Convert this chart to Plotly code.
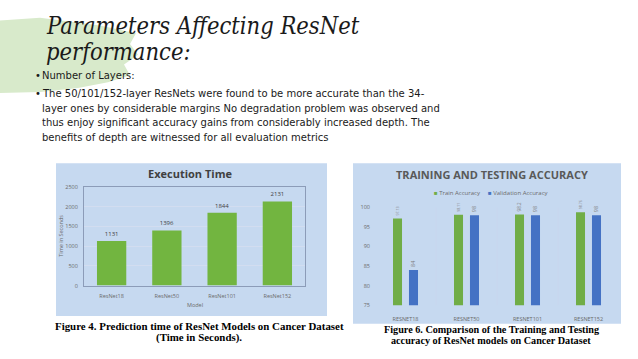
import plotly.graph_objects as go

# ---- data ----
exec_models = ["ResNet18", "ResNet50", "ResNet101", "ResNet152"]
exec_times = [1131, 1396, 1844, 2131]

acc_models = ["RESNET18", "RESNET50", "RESNET101", "RESNET152"]
train_acc = [97.13, 98.11, 98.2, 98.76]
val_acc = [84, 98, 98, 98]

W, H = 638, 359
def px(x):
    return x / W
def py(y):
    return 1 - y / H

fig = go.Figure()

# left chart: execution time
fig.add_trace(go.Bar(
    x=exec_models, y=exec_times, xaxis="x", yaxis="y",
    marker=dict(color="#72b540", line=dict(width=0)), width=0.53,
    text=[str(v) for v in exec_times], textposition="outside",
    textfont=dict(size=6, color="#404040", family="Open Sans"),
    cliponaxis=False, showlegend=False))

# right chart: accuracy
fig.add_trace(go.Bar(
    x=acc_models, y=train_acc, xaxis="x2", yaxis="y2", name="Train Accuracy",
    marker=dict(color="#70ad47", line=dict(width=0)), width=0.148, offset=-0.205,
    text=[str(v) for v in train_acc], textposition="outside", textangle=-90,
    textfont=dict(size=5.5, color="#7f7f7f", family="Open Sans"),
    cliponaxis=False, showlegend=False))
fig.add_trace(go.Bar(
    x=acc_models, y=val_acc, xaxis="x2", yaxis="y2", name="Validation Accuracy",
    marker=dict(color="#4472c4", line=dict(width=0)), width=0.148, offset=0.057,
    text=[str(v) for v in val_acc], textposition="outside", textangle=-90,
    textfont=dict(size=5.5, color="#7f7f7f", family="Open Sans"),
    cliponaxis=False, showlegend=False))

tickf = dict(size=5.5, color="#6b6b6b", family="Open Sans")

shapes = [
    # green brush stroke
    dict(type="path", xref="paper", yref="paper", layer="below",
         path="M {} {} L {} {} L {} {} L {} {} L {} {} L {} {} L {} {} L {} {} L {} {} L {} {} L {} {} L {} {} Z".format(
             px(0), py(17), px(40), py(14), px(100), py(22), px(136), py(30),
             px(130), py(41), px(138), py(52), px(124), py(62), px(130), py(73),
             px(108), py(80), px(78), py(86), px(40), py(90), px(0), py(91)),
         fillcolor="#d8eacb", line=dict(width=0)),
    # chart backgrounds
    dict(type="rect", xref="paper", yref="paper", layer="below",
         x0=px(56), x1=px(327), y0=py(319), y1=py(163),
         fillcolor="#c6d9f0", line=dict(width=0)),
    dict(type="rect", xref="paper", yref="paper", layer="below",
         x0=px(353), x1=px(621), y0=py(327), y1=py(163),
         fillcolor="#c6d9f0", line=dict(width=0)),
]
# band separators on accuracy chart
for b in [0.5, 1.5, 2.5]:
    shapes.append(dict(type="line", xref="x2", yref="y2 domain", x0=b, x1=b, y0=0, y1=1,
                       line=dict(color="#c8d6ee", width=1), layer="below"))

ann = []
def text(x, y, s, size, family, color="#000000", xanchor="left", bold=False, italic=False, angle=0):
    if bold:
        s = "<b>" + s + "</b>"
    if italic:
        s = "<i>" + s + "</i>"
    ann.append(dict(x=px(x), y=py(y), xref="paper", yref="paper", text=s, showarrow=False,
                    xanchor=xanchor, yanchor="middle", textangle=angle,
                    font=dict(size=size, family=family, color=color)))

# slide title
tf = "DejaVu Serif Condensed, DejaVu Serif"
text(44, 22, "Parameters Affecting ResNet", 23.5, tf, "#1a1a1a", italic=True)
text(44, 49, "performance:", 23.5, tf, "#1a1a1a", italic=True)
# bullets
bf = "DejaVu Sans"
bs = 10
text(33, 73, "•", bs, bf, "#1a1a1a")
text(40, 73, "Number of Layers:", bs, bf, "#1a1a1a")
text(33, 92, "•", bs, bf, "#1a1a1a")
lines = ["The 50/101/152-layer ResNets were found to be more accurate than the 34-",
         "layer ones by considerable margins No degradation problem was observed and",
         "thus enjoy significant accuracy gains from considerably increased depth. The",
         "benefits of depth are witnessed for all evaluation metrics"]
for i, l in enumerate(lines):
    text(40, 92 + i * 14.7, l, bs, bf, "#1a1a1a")

# chart titles
text(190, 173, "Execution Time", 11, "Open Sans", "#404040", xanchor="center", bold=True)
text(492, 174, "TRAINING AND TESTING ACCURACY", 11, "Open Sans", "#595959", xanchor="center", bold=True)
# axis titles left chart
text(61, 237, "Time in Seconds", 5.5, "Open Sans", "#6b6b6b", xanchor="center", angle=-90)
text(195, 308, "Model", 5.5, "Open Sans", "#6b6b6b", xanchor="center")
# legend right chart
text(432, 193, "<span style='color:#70ad47'>■</span> Train Accuracy", 6, "Open Sans", "#6b6b6b")
text(486, 193, "<span style='color:#4472c4'>■</span> Validation Accuracy", 6, "Open Sans", "#6b6b6b")
# captions
cf = "Liberation Serif"
text(199, 329, "Figure 4. Prediction time of ResNet Models on Cancer Dataset", 10.9, cf, "#000000", xanchor="center", bold=True)
text(199, 341, "(Time in Seconds).", 10.9, cf, "#000000", xanchor="center", bold=True)
text(491, 333, "Figure 6. Comparison of the Training and Testing", 10.2, cf, "#000000", xanchor="center", bold=True)
text(491, 344, "accuracy of ResNet models on Cancer Dataset", 10.2, cf, "#000000", xanchor="center", bold=True)

fig.update_layout(
    width=W, height=H, margin=dict(l=0, r=0, t=0, b=0),
    paper_bgcolor="#ffffff", plot_bgcolor="#b7c8e6",
    barmode="overlay", showlegend=False,
    shapes=shapes, annotations=ann,
    xaxis=dict(domain=[px(84), px(305)], anchor="y", tickfont=tickf, showgrid=False,
               showline=True, mirror=True, linecolor="#8c9cb8", linewidth=1, ticks="",
               ticklabelstandoff=5),
    yaxis=dict(domain=[py(288), py(187)], anchor="x", range=[0, 2500], dtick=500,
               tickfont=tickf, gridcolor="#d2ddf0", gridwidth=1, showline=True, mirror=True,
               linecolor="#8c9cb8", linewidth=1, zeroline=False, ticks="", ticklabelstandoff=4),
    xaxis2=dict(domain=[px(375), px(619)], anchor="y2", tickfont=dict(size=5.5, color="#6b6b6b", family="Open Sans"),
                showgrid=False, showline=False, ticks="", ticklabelstandoff=9),
    yaxis2=dict(domain=[py(308), py(208)], anchor="x2", range=[75, 100], dtick=5,
                tickfont=tickf, showgrid=False, zeroline=False, showline=False, ticks="",
                ticklabelstandoff=4),
)

fig.write_html("out.html", config={"displayModeBar": False},
               post_script="document.body.style.margin='0px';document.body.style.overflow='hidden';")
